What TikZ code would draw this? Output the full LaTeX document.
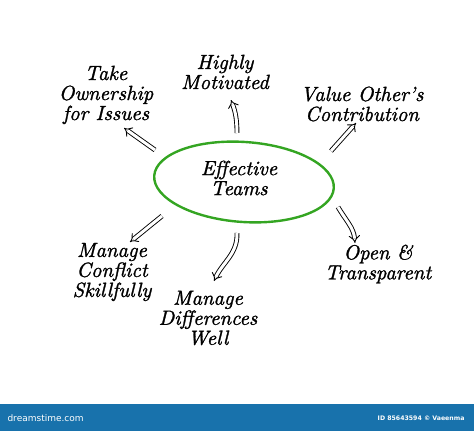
\documentclass[tikz,border=0pt]{standalone}
\usepackage{fontspec}
\setsansfont{DejaVu Sans}
\newfontface\goalfont[FakeBold=1.3, Ligatures=TeX]{lmroman10-italic.otf}
\usepackage{xcolor}
\usetikzlibrary{arrows.meta, positioning, shapes.geometric, calc}

\definecolor{ringgreen}{RGB}{52,165,34}
\definecolor{barblue}{RGB}{24,114,172}

\begin{document}
\begin{tikzpicture}[
  x=1pt, y=-1pt,
  goal/.style={align=center, font=\goalfont\fontsize{20.5}{20}\selectfont},
  ring/.style={ellipse, draw=ringgreen, line width=2.4pt, minimum width=180pt, minimum height=80pt, inner sep=0pt},
  arrow/.style={double, double distance=3pt, line width=0.9pt, -{Implies[scale=1.8]}},
]
  \useasboundingbox (0,0) rectangle (474,431);

  % centre
  \node[ring, rotate=-4] (ring) at (244,182) {};
  \node[goal] (core) at (239,178) {Effective\\Teams};

  % goals round the centre
  \node[goal] (own)   at (106,95)  {Take\\Ownership\\for Issues};
  \node[goal] (motiv) at (225,72)  {Highly\\Motivated};
  \node[goal] (value) at (362,104) {Value Other’s\\Contribution};
  \node[goal] (open)  at (378,264) {Open \&\\Transparent};
  \node[goal] (diff)  at (208,318) {Manage\\Differences\\Well};
  \node[goal] (confl) at (112,272) {Manage\\Conflict\\Skillfully};

  % arrow ends
  \coordinate (t1) at (155,150); \coordinate (h1) at (124,128);
  \coordinate (t2) at (237,133); \coordinate (h2) at (231,100);
  \coordinate (t3) at (331,151); \coordinate (h3) at (356,123);
  \coordinate (t4) at (338,207); \coordinate (h4) at (355,243);
  \coordinate (t5) at (237,233); \coordinate (h5) at (214,281);
  \coordinate (t6) at (162,216); \coordinate (h6) at (130,242);

  \draw[arrow] (t1) -- (h1);
  \draw[arrow] (t2) to[bend right=10] (h2);
  \draw[arrow] (t3) -- (h3);
  \draw[arrow] (t4) to[out=-60, in=95] (h4);
  \draw[arrow] (t5) to[out=-88, in=65] (h5);
  \draw[arrow] (t6) -- (h6);

  % stock bar
  \fill[barblue] (0,404) rectangle (474,431);
  \node[font=\sffamily\fontsize{9}{11}\selectfont, text=white, anchor=west] (site) at (4,418) {dreamstime.com};
  \node[font=\sffamily\bfseries\fontsize{6.2}{8}\selectfont, text=white, anchor=east] (credit) at (468,418) {ID 85643594 \textcopyright{} Vaeenma};
\end{tikzpicture}
\end{document}
